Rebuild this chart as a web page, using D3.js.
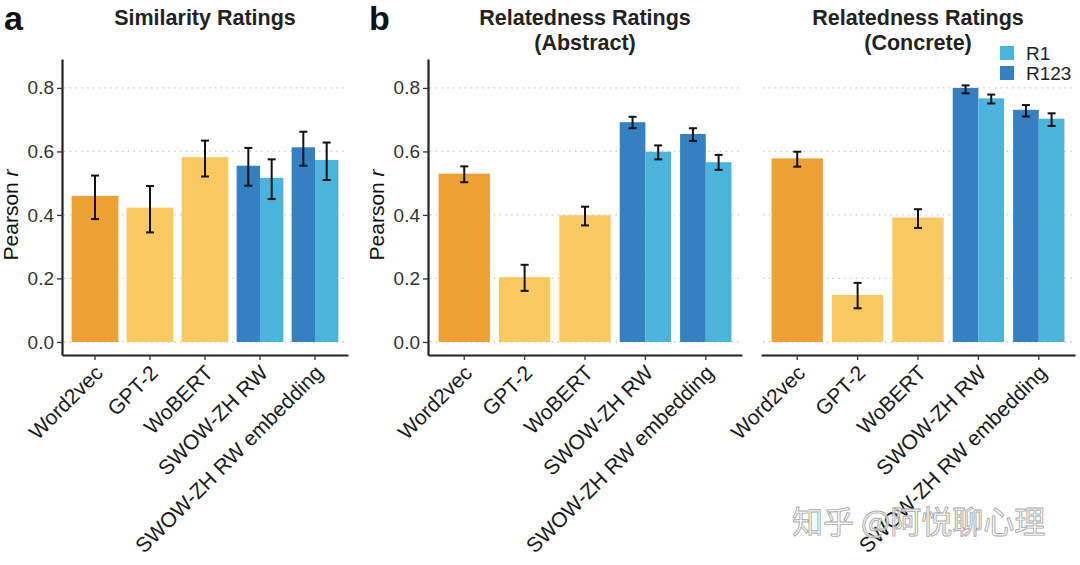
<!DOCTYPE html>
<html>
<head>
<meta charset="utf-8">
<script src="https://cdn.jsdelivr.net/npm/d3@7"></script>
<style>
  body { margin: 0; background: #fff; }
  svg { font-family: "Liberation Sans", Arial, sans-serif; }
</style>
</head>
<body>
<svg id="chart" width="1080" height="565"></svg>
<script>
// model names on the x axis
const models = ['Word2vec', 'GPT-2', 'WoBERT', 'SWOW-ZH RW', 'SWOW-ZH RW embedding'];
const seriesKeys = ['R123', 'R1'];
const yTicks = [0, 0.2, 0.4, 0.6, 0.8];

// Pearson r, one value for single models, [R123, R1] for SWOW ones
const simMean = [[0.46], [0.423], [0.582], [0.555, 0.517], [0.613, 0.573]];
const simLo   = [[0.387], [0.345], [0.521], [0.492, 0.450], [0.555, 0.510]];
const simHi   = [[0.524], [0.491], [0.634], [0.611, 0.575], [0.662, 0.628]];

const absMean = [[0.530], [0.204], [0.399], [0.692, 0.599], [0.655, 0.566]];
const absLo   = [[0.503], [0.161], [0.367], [0.673, 0.575], [0.633, 0.542]];
const absHi   = [[0.553], [0.243], [0.426], [0.709, 0.619], [0.673, 0.589]];

const conMean = [[0.578], [0.148], [0.392], [0.800, 0.767], [0.731, 0.703]];
const conLo   = [[0.552], [0.106], [0.359], [0.783, 0.751], [0.710, 0.680]];
const conHi   = [[0.599], [0.186], [0.418], [0.808, 0.779], [0.746, 0.720]];

const modelColor = ['#eca035', '#f9c961', '#f9c961'];
const seriesColor = { R123: '#3580c0', R1: '#4ab4dc' };

const svg = d3.select('#chart');

const y = d3.scaleLinear().domain([-0.041, 0.891]).range([355, 59]);

function panel(opts) {
  const { x0, x1, mean, lo, hi, showY } = opts;
  const g = svg.append('g');

  const x = d3.scaleBand()
    .domain(models)
    .range([x0, x1])
    .paddingInner(0.15)
    .paddingOuter(0.175);

  const sub = d3.scaleBand().domain(seriesKeys).range([0, x.bandwidth()]);

  // dotted grid
  g.selectAll('.grid')
    .data(yTicks)
    .enter().append('line')
    .attr('x1', x0 + 2).attr('x2', x1)
    .attr('y1', d => y(d)).attr('y2', d => y(d))
    .attr('stroke', '#c4c4c4')
    .attr('stroke-width', 1.3)
    .attr('stroke-dasharray', '1.3,4.5');

  const bars = [];
  models.forEach((m, i) => {
    mean[i].forEach((v, j) => {
      const single = mean[i].length === 1;
      const bx = single ? x(m) : x(m) + sub(seriesKeys[j]);
      const bw = single ? x.bandwidth() : sub.bandwidth();
      bars.push({
        x: bx, w: bw, v: v, lo: lo[i][j], hi: hi[i][j],
        color: single ? modelColor[i] : seriesColor[seriesKeys[j]]
      });
    });
  });

  g.selectAll('.bar')
    .data(bars)
    .enter().append('rect')
    .attr('x', d => d.x)
    .attr('width', d => d.w)
    .attr('y', d => y(d.v))
    .attr('height', d => y(0) - y(d.v))
    .attr('fill', d => d.color);

  const err = g.selectAll('.err').data(bars).enter().append('g')
    .attr('stroke', '#111').attr('stroke-width', 2);
  err.append('line')
    .attr('x1', d => d.x + d.w / 2).attr('x2', d => d.x + d.w / 2)
    .attr('y1', d => y(d.lo)).attr('y2', d => y(d.hi));
  err.append('line')
    .attr('x1', d => d.x + d.w / 2 - 4).attr('x2', d => d.x + d.w / 2 + 4)
    .attr('y1', d => y(d.lo)).attr('y2', d => y(d.lo));
  err.append('line')
    .attr('x1', d => d.x + d.w / 2 - 4).attr('x2', d => d.x + d.w / 2 + 4)
    .attr('y1', d => y(d.hi)).attr('y2', d => y(d.hi));

  // x axis
  const xa = g.append('g')
    .attr('transform', `translate(0,${y.range()[0]})`)
    .call(d3.axisBottom(x).tickSize(5).tickSizeOuter(0));
  xa.select('.domain').attr('stroke', '#222').attr('stroke-width', 2.2);
  xa.selectAll('.tick line').attr('stroke', '#333').attr('stroke-width', 1.3);
  xa.selectAll('.tick text')
    .attr('font-size', 21)
    .attr('fill', '#1a1a1a')
    .attr('text-anchor', 'end')
    .attr('transform', 'translate(4,14) rotate(-45)')
    .attr('x', 0).attr('y', 0).attr('dy', '0.35em');

  if (showY) {
    const ya = g.append('g')
      .attr('transform', `translate(${x0},0)`)
      .call(d3.axisLeft(y).tickValues(yTicks).tickFormat(d3.format('.1f')).tickSize(5).tickSizeOuter(0));
    ya.select('.domain').attr('stroke', '#222').attr('stroke-width', 2.2);
    ya.selectAll('.tick line').attr('stroke', '#333').attr('stroke-width', 1.3);
    ya.selectAll('.tick text').attr('font-size', 19).attr('fill', '#333').attr('x', -8);

    const lab = g.append('text')
      .attr('transform', `translate(${x0 - 44},${(y(0) + y(0.8)) / 2})rotate(-90)`)
      .attr('text-anchor', 'middle')
      .attr('font-size', 21)
      .attr('fill', '#111');
    lab.append('tspan').text('Pearson ');
    lab.append('tspan').attr('font-style', 'italic').text('r');
  }

  const cx = (x0 + x1) / 2;
  opts.title.forEach((t, k) => {
    g.append('text')
      .attr('x', cx).attr('y', 25 + k * 25)
      .attr('text-anchor', 'middle')
      .attr('font-size', 21.5)
      .attr('font-weight', 'bold')
      .attr('fill', '#222')
      .text(t);
  });
}

panel({ x0: 62, x1: 348, mean: simMean, lo: simLo, hi: simHi, showY: true, title: ['Similarity Ratings'] });
panel({ x0: 428, x1: 742, mean: absMean, lo: absLo, hi: absHi, showY: true, title: ['Relatedness Ratings', '(Abstract)'] });
panel({ x0: 761, x1: 1075, mean: conMean, lo: conLo, hi: conHi, showY: false, title: ['Relatedness Ratings', '(Concrete)'] });

// panel letters
svg.append('text').attr('x', 4).attr('y', 30).attr('font-size', 34).attr('font-weight', 'bold').attr('fill', '#111').text('a');
svg.append('text').attr('x', 369).attr('y', 30).attr('font-size', 34).attr('font-weight', 'bold').attr('fill', '#111').text('b');

// legend
const legendKeys = ['R1', 'R123'];
const leg = svg.append('g').attr('transform', 'translate(1000,46)');
legendKeys.forEach((k, i) => {
  leg.append('rect').attr('x', 0).attr('y', i * 20).attr('width', 14).attr('height', 14).attr('fill', seriesColor[k]);
  leg.append('text').attr('x', 26).attr('y', i * 20 + 14).attr('font-size', 19).attr('fill', '#222').text(k);
});

// watermark
svg.append('text')
  .attr('x', 792).attr('y', 533)
  .attr('font-family', '"Noto Sans CJK SC", sans-serif')
  .attr('font-size', 31)
  .attr('fill', 'rgba(255,255,255,0.75)')
  .attr('stroke', '#a8a8a8')
  .attr('stroke-width', 0.9)
  .text('知乎 @阿悦聊心理');
</script>
</body>
</html>
